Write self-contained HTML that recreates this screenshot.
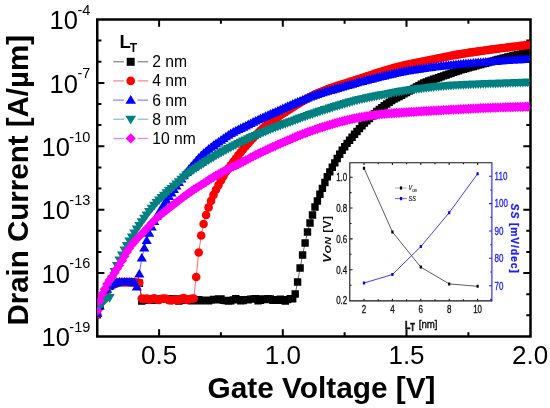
<!DOCTYPE html>
<html><head><meta charset="utf-8"><title>Drain Current vs Gate Voltage</title>
<style>
html,body{margin:0;padding:0;background:#fff;}
body{width:550px;height:408px;overflow:hidden;}
svg{display:block;font-family:"Liberation Sans",Arial,Helvetica,sans-serif;}
</style></head><body>
<svg width="550" height="408" viewBox="0 0 550 408">
<defs><clipPath id="pc"><rect x="97.3" y="19.5" width="432.3" height="317"/></clipPath></defs>
<rect width="550" height="408" fill="#fff"/>
<rect x="97.25" y="19.5" width="433.25" height="317.0" fill="none" stroke="#000" stroke-width="2.5"/>
<path d="M97.2 40.6h4.2M530.5 40.6h-4.2M97.2 61.8h4.2M530.5 61.8h-4.2M97.2 82.9h7.2M530.5 82.9h-7.2M97.2 104h4.2M530.5 104h-4.2M97.2 125.1h4.2M530.5 125.1h-4.2M97.2 146.3h7.2M530.5 146.3h-7.2M97.2 167.4h4.2M530.5 167.4h-4.2M97.2 188.5h4.2M530.5 188.5h-4.2M97.2 209.7h7.2M530.5 209.7h-7.2M97.2 230.8h4.2M530.5 230.8h-4.2M97.2 251.9h4.2M530.5 251.9h-4.2M97.2 273.1h7.2M530.5 273.1h-7.2M97.2 294.2h4.2M530.5 294.2h-4.2M97.2 315.3h4.2M530.5 315.3h-4.2M159.1 336.5v-7.2M159.1 19.5v7.2M220.9 336.5v-4.2M220.9 19.5v4.2M282.8 336.5v-7.2M282.8 19.5v7.2M344.6 336.5v-4.2M344.6 19.5v4.2M406.5 336.5v-7.2M406.5 19.5v7.2M468.4 336.5v-4.2M468.4 19.5v4.2" stroke="#000" stroke-width="2" fill="none"/>
<text x="90.3" y="29.2" text-anchor="end" font-size="25.5">10<tspan font-size="14.5" dx="-0.5" dy="-14.5">-4</tspan></text>
<text x="90.3" y="92.6" text-anchor="end" font-size="25.5">10<tspan font-size="14.5" dx="-0.5" dy="-14.5">-7</tspan></text>
<text x="90.3" y="156" text-anchor="end" font-size="25.5">10<tspan font-size="14.5" dx="-0.5" dy="-14.5">-10</tspan></text>
<text x="90.3" y="219.4" text-anchor="end" font-size="25.5">10<tspan font-size="14.5" dx="-0.5" dy="-14.5">-13</tspan></text>
<text x="90.3" y="282.8" text-anchor="end" font-size="25.5">10<tspan font-size="14.5" dx="-0.5" dy="-14.5">-16</tspan></text>
<text x="90.3" y="346.1" text-anchor="end" font-size="25.5">10<tspan font-size="14.5" dx="-0.5" dy="-14.5">-19</tspan></text>
<text x="159.1" y="363.8" text-anchor="middle" font-size="26">0.5</text>
<text x="282.8" y="363.8" text-anchor="middle" font-size="26">1.0</text>
<text x="406.5" y="363.8" text-anchor="middle" font-size="26">1.5</text>
<text x="530.2" y="363.8" text-anchor="middle" font-size="26">2.0</text>
<g clip-path="url(#pc)">
<path d="M97.2 314.8 L99.7 306.6 L102.2 299.7 L104.7 294.1 L107.1 289.7 L109.6 286.4 L112.1 284.8 L114.6 283.7 L117 283 L119.5 282.6 L122 282.6 L124.5 282.6 L126.9 282.6 L129.4 282.6 L131.9 282.7 L134.4 282.9 L136.8 283.1 L139.3 283.3 L141.8 301 L144.3 299.1 L146.7 300.3 L149.2 300.2 L151.7 300.4 L154.2 299.7 L156.6 300.1 L159.1 298.7 L161.6 298.7 L164 299 L166.5 298.9 L169 298.8 L171.5 298.8 L173.9 299.9 L176.4 299 L178.9 301 L181.4 300.3 L183.8 299.9 L186.3 300.3 L188.8 299.2 L191.3 300.9 L193.7 300.7 L196.2 300.4 L198.7 299.7 L201.2 300.7 L203.6 300.4 L206.1 300.2 L208.6 300.9 L211.1 300.1 L213.5 299.5 L216 299.9 L218.5 299 L221 299 L223.4 300.4 L225.9 300.5 L228.4 301 L230.8 300.7 L233.3 299.9 L235.8 298.7 L238.3 299.8 L240.7 300.9 L243.2 300.5 L245.7 299.8 L248.2 299.7 L250.6 299.1 L253.1 299 L255.6 298.7 L258.1 300.8 L260.5 300.2 L263 298.9 L265.5 299.6 L268 298.6 L270.4 299 L272.9 300.4 L275.4 300.2 L277.9 299.7 L280.3 299.2 L282.8 300.2 L285.3 301 L287.7 299.6 L290.2 298.7 L292.7 298.7 L295.2 294 L297.6 282 L300.1 268 L302.6 255 L305.1 243 L307.5 232 L310 223 L312.5 215 L315 207 L317.4 201 L319.9 194.2 L322.4 188.4 L324.9 182.5 L327.3 176.8 L329.8 171.9 L332.3 167.3 L334.8 162.9 L337.2 158.5 L339.7 154.2 L342.2 150.2 L344.7 146.7 L347.1 143.4 L349.6 140.3 L352.1 137.3 L354.5 134.3 L357 131.5 L359.5 128.6 L362 125.7 L364.4 123.1 L366.9 120.7 L369.4 118.5 L371.9 116.2 L374.3 113.8 L376.8 111.5 L379.3 109.5 L381.8 107.6 L384.2 105.8 L386.7 104 L389.2 102.3 L391.7 100.6 L394.1 99.1 L396.6 97.8 L399.1 96.5 L401.6 95.2 L404 93.9 L406.5 92.5 L409 91.1 L411.4 89.8 L413.9 88.4 L416.4 87 L418.9 85.6 L421.3 84.2 L423.8 83 L426.3 81.9 L428.8 80.9 L431.2 80.1 L433.7 79.3 L436.2 78.5 L438.7 77.7 L441.1 76.8 L443.6 75.9 L446.1 75 L448.6 74.1 L451 73.2 L453.5 72.4 L456 71.5 L458.5 70.7 L460.9 69.9 L463.4 69.2 L465.9 68.5 L468.4 67.8 L470.8 67.1 L473.3 66.5 L475.8 65.8 L478.2 65.1 L480.7 64.5 L483.2 63.8 L485.7 63.2 L488.1 62.5 L490.6 61.8 L493.1 61 L495.6 60.3 L498 59.5 L500.5 58.9 L503 58.2 L505.5 57.6 L507.9 57 L510.4 56.4 L512.9 55.8 L515.4 55.2 L517.8 54.7 L520.3 54.2 L522.8 53.6 L525.3 53.1 L527.7 52.6 L530.2 52.2" fill="none" stroke="#000" stroke-width="0.6"/>
<path d="M93.5 311.1h7.4v7.4h-7.4zM96 302.9h7.4v7.4h-7.4zM98.5 296h7.4v7.4h-7.4zM101 290.4h7.4v7.4h-7.4zM103.4 286h7.4v7.4h-7.4zM105.9 282.7h7.4v7.4h-7.4zM108.4 281.1h7.4v7.4h-7.4zM110.9 280h7.4v7.4h-7.4zM113.3 279.3h7.4v7.4h-7.4zM115.8 278.9h7.4v7.4h-7.4zM118.3 278.9h7.4v7.4h-7.4zM120.8 278.9h7.4v7.4h-7.4zM123.2 278.9h7.4v7.4h-7.4zM125.7 278.9h7.4v7.4h-7.4zM128.2 279h7.4v7.4h-7.4zM130.7 279.2h7.4v7.4h-7.4zM133.1 279.4h7.4v7.4h-7.4zM135.6 279.6h7.4v7.4h-7.4zM138.1 297.3h7.4v7.4h-7.4zM140.6 295.4h7.4v7.4h-7.4zM143 296.6h7.4v7.4h-7.4zM145.5 296.5h7.4v7.4h-7.4zM148 296.7h7.4v7.4h-7.4zM150.5 296h7.4v7.4h-7.4zM152.9 296.4h7.4v7.4h-7.4zM155.4 295h7.4v7.4h-7.4zM157.9 295h7.4v7.4h-7.4zM160.3 295.3h7.4v7.4h-7.4zM162.8 295.2h7.4v7.4h-7.4zM165.3 295.1h7.4v7.4h-7.4zM167.8 295.1h7.4v7.4h-7.4zM170.2 296.2h7.4v7.4h-7.4zM172.7 295.3h7.4v7.4h-7.4zM175.2 297.3h7.4v7.4h-7.4zM177.7 296.6h7.4v7.4h-7.4zM180.1 296.2h7.4v7.4h-7.4zM182.6 296.6h7.4v7.4h-7.4zM185.1 295.5h7.4v7.4h-7.4zM187.6 297.2h7.4v7.4h-7.4zM190 297h7.4v7.4h-7.4zM192.5 296.7h7.4v7.4h-7.4zM195 296h7.4v7.4h-7.4zM197.5 297h7.4v7.4h-7.4zM199.9 296.7h7.4v7.4h-7.4zM202.4 296.5h7.4v7.4h-7.4zM204.9 297.2h7.4v7.4h-7.4zM207.4 296.4h7.4v7.4h-7.4zM209.8 295.8h7.4v7.4h-7.4zM212.3 296.2h7.4v7.4h-7.4zM214.8 295.3h7.4v7.4h-7.4zM217.3 295.3h7.4v7.4h-7.4zM219.7 296.7h7.4v7.4h-7.4zM222.2 296.8h7.4v7.4h-7.4zM224.7 297.3h7.4v7.4h-7.4zM227.1 297h7.4v7.4h-7.4zM229.6 296.2h7.4v7.4h-7.4zM232.1 295h7.4v7.4h-7.4zM234.6 296.1h7.4v7.4h-7.4zM237 297.2h7.4v7.4h-7.4zM239.5 296.8h7.4v7.4h-7.4zM242 296.1h7.4v7.4h-7.4zM244.5 296h7.4v7.4h-7.4zM246.9 295.4h7.4v7.4h-7.4zM249.4 295.3h7.4v7.4h-7.4zM251.9 295h7.4v7.4h-7.4zM254.4 297.1h7.4v7.4h-7.4zM256.8 296.5h7.4v7.4h-7.4zM259.3 295.2h7.4v7.4h-7.4zM261.8 295.9h7.4v7.4h-7.4zM264.3 294.9h7.4v7.4h-7.4zM266.7 295.3h7.4v7.4h-7.4zM269.2 296.7h7.4v7.4h-7.4zM271.7 296.5h7.4v7.4h-7.4zM274.2 296h7.4v7.4h-7.4zM276.6 295.5h7.4v7.4h-7.4zM279.1 296.5h7.4v7.4h-7.4zM281.6 297.3h7.4v7.4h-7.4zM284 295.9h7.4v7.4h-7.4zM286.5 295h7.4v7.4h-7.4zM289 295h7.4v7.4h-7.4zM291.5 290.3h7.4v7.4h-7.4zM293.9 278.3h7.4v7.4h-7.4zM296.4 264.3h7.4v7.4h-7.4zM298.9 251.3h7.4v7.4h-7.4zM301.4 239.3h7.4v7.4h-7.4zM303.8 228.3h7.4v7.4h-7.4zM306.3 219.3h7.4v7.4h-7.4zM308.8 211.3h7.4v7.4h-7.4zM311.3 203.3h7.4v7.4h-7.4zM313.7 197.3h7.4v7.4h-7.4zM316.2 190.5h7.4v7.4h-7.4zM318.7 184.7h7.4v7.4h-7.4zM321.2 178.8h7.4v7.4h-7.4zM323.6 173.1h7.4v7.4h-7.4zM326.1 168.2h7.4v7.4h-7.4zM328.6 163.6h7.4v7.4h-7.4zM331.1 159.2h7.4v7.4h-7.4zM333.5 154.8h7.4v7.4h-7.4zM336 150.5h7.4v7.4h-7.4zM338.5 146.5h7.4v7.4h-7.4zM341 143h7.4v7.4h-7.4zM343.4 139.7h7.4v7.4h-7.4zM345.9 136.6h7.4v7.4h-7.4zM348.4 133.6h7.4v7.4h-7.4zM350.8 130.6h7.4v7.4h-7.4zM353.3 127.8h7.4v7.4h-7.4zM355.8 124.9h7.4v7.4h-7.4zM358.3 122h7.4v7.4h-7.4zM360.7 119.4h7.4v7.4h-7.4zM363.2 117h7.4v7.4h-7.4zM365.7 114.8h7.4v7.4h-7.4zM368.2 112.5h7.4v7.4h-7.4zM370.6 110.1h7.4v7.4h-7.4zM373.1 107.8h7.4v7.4h-7.4zM375.6 105.8h7.4v7.4h-7.4zM378.1 103.9h7.4v7.4h-7.4zM380.5 102.1h7.4v7.4h-7.4zM383 100.3h7.4v7.4h-7.4zM385.5 98.6h7.4v7.4h-7.4zM388 96.9h7.4v7.4h-7.4zM390.4 95.4h7.4v7.4h-7.4zM392.9 94.1h7.4v7.4h-7.4zM395.4 92.8h7.4v7.4h-7.4zM397.9 91.5h7.4v7.4h-7.4zM400.3 90.2h7.4v7.4h-7.4zM402.8 88.8h7.4v7.4h-7.4zM405.3 87.4h7.4v7.4h-7.4zM407.7 86.1h7.4v7.4h-7.4zM410.2 84.7h7.4v7.4h-7.4zM412.7 83.3h7.4v7.4h-7.4zM415.2 81.9h7.4v7.4h-7.4zM417.6 80.5h7.4v7.4h-7.4zM420.1 79.3h7.4v7.4h-7.4zM422.6 78.2h7.4v7.4h-7.4zM425.1 77.2h7.4v7.4h-7.4zM427.5 76.4h7.4v7.4h-7.4zM430 75.6h7.4v7.4h-7.4zM432.5 74.8h7.4v7.4h-7.4zM435 74h7.4v7.4h-7.4zM437.4 73.1h7.4v7.4h-7.4zM439.9 72.2h7.4v7.4h-7.4zM442.4 71.3h7.4v7.4h-7.4zM444.9 70.4h7.4v7.4h-7.4zM447.3 69.5h7.4v7.4h-7.4zM449.8 68.7h7.4v7.4h-7.4zM452.3 67.8h7.4v7.4h-7.4zM454.8 67h7.4v7.4h-7.4zM457.2 66.2h7.4v7.4h-7.4zM459.7 65.5h7.4v7.4h-7.4zM462.2 64.8h7.4v7.4h-7.4zM464.7 64.1h7.4v7.4h-7.4zM467.1 63.4h7.4v7.4h-7.4zM469.6 62.8h7.4v7.4h-7.4zM472.1 62.1h7.4v7.4h-7.4zM474.5 61.4h7.4v7.4h-7.4zM477 60.8h7.4v7.4h-7.4zM479.5 60.1h7.4v7.4h-7.4zM482 59.5h7.4v7.4h-7.4zM484.4 58.8h7.4v7.4h-7.4zM486.9 58.1h7.4v7.4h-7.4zM489.4 57.3h7.4v7.4h-7.4zM491.9 56.6h7.4v7.4h-7.4zM494.3 55.8h7.4v7.4h-7.4zM496.8 55.2h7.4v7.4h-7.4zM499.3 54.5h7.4v7.4h-7.4zM501.8 53.9h7.4v7.4h-7.4zM504.2 53.3h7.4v7.4h-7.4zM506.7 52.7h7.4v7.4h-7.4zM509.2 52.1h7.4v7.4h-7.4zM511.7 51.5h7.4v7.4h-7.4zM514.1 51h7.4v7.4h-7.4zM516.6 50.5h7.4v7.4h-7.4zM519.1 49.9h7.4v7.4h-7.4zM521.6 49.4h7.4v7.4h-7.4zM524 48.9h7.4v7.4h-7.4zM526.5 48.5h7.4v7.4h-7.4z" fill="#000"/>
<path d="M97.2 314.3 L99.7 306.1 L102.2 299.2 L104.7 293.6 L107.1 289.2 L109.6 285.9 L112.1 284.3 L114.6 283.2 L117 282.5 L119.5 282.1 L122 282.1 L124.5 282.1 L126.9 282.1 L129.4 282.1 L131.9 282.2 L134.4 282.4 L136.8 282.6 L139.3 282.8 L141.8 298.6 L144.3 299 L146.7 298.6 L149.2 299.7 L151.7 299 L154.2 298.3 L156.6 299.3 L159.1 299.9 L161.6 298.7 L164 298.5 L166.5 298.9 L169 300.3 L171.5 300.4 L173.9 299.6 L176.4 300.2 L178.9 300.1 L181.4 298.9 L183.8 298.1 L186.3 299.6 L188.8 299.4 L191.3 298.8 L193.7 298.5 L196.2 277 L198.7 252.5 L201.2 235.5 L203.6 224 L206.1 215 L208.6 207.4 L211.1 200.9 L213.5 194.9 L216 189.7 L218.5 185.1 L221 180.5 L223.4 176.2 L225.9 172 L228.4 168.6 L230.8 165.2 L233.3 161.8 L235.8 158.5 L238.3 155.3 L240.7 152.2 L243.2 149.1 L245.7 146.2 L248.2 143.4 L250.6 140.7 L253.1 138.1 L255.6 135.5 L258.1 132.9 L260.5 130.6 L263 128.4 L265.5 126.3 L268 124.3 L270.4 122.4 L272.9 120.5 L275.4 118.8 L277.9 117.2 L280.3 115.5 L282.8 113.8 L285.3 112.1 L287.7 110.5 L290.2 108.9 L292.7 107.3 L295.2 105.7 L297.6 104.2 L300.1 102.6 L302.6 101.2 L305.1 99.7 L307.5 98.4 L310 97 L312.5 95.7 L315 94.4 L317.4 93.3 L319.9 92.2 L322.4 91.2 L324.9 90.2 L327.3 89.3 L329.8 88.4 L332.3 87.5 L334.8 86.7 L337.2 85.9 L339.7 85.1 L342.2 84.3 L344.7 83.5 L347.1 82.7 L349.6 81.9 L352.1 81.2 L354.5 80.4 L357 79.6 L359.5 78.8 L362 78 L364.4 77.2 L366.9 76.4 L369.4 75.5 L371.9 74.7 L374.3 73.9 L376.8 73.1 L379.3 72.3 L381.8 71.5 L384.2 70.7 L386.7 70 L389.2 69.3 L391.7 68.6 L394.1 67.9 L396.6 67.2 L399.1 66.6 L401.6 66 L404 65.4 L406.5 64.9 L409 64.3 L411.4 63.8 L413.9 63.3 L416.4 62.8 L418.9 62.3 L421.3 61.8 L423.8 61.3 L426.3 60.7 L428.8 60.2 L431.2 59.7 L433.7 59.2 L436.2 58.7 L438.7 58.2 L441.1 57.7 L443.6 57.2 L446.1 56.7 L448.6 56.2 L451 55.8 L453.5 55.3 L456 54.9 L458.5 54.4 L460.9 54 L463.4 53.6 L465.9 53.2 L468.4 52.8 L470.8 52.4 L473.3 52.1 L475.8 51.7 L478.2 51.4 L480.7 51 L483.2 50.7 L485.7 50.3 L488.1 50 L490.6 49.6 L493.1 49.3 L495.6 49 L498 48.7 L500.5 48.3 L503 48 L505.5 47.7 L507.9 47.4 L510.4 47.1 L512.9 46.8 L515.4 46.5 L517.8 46.2 L520.3 45.9 L522.8 45.6 L525.3 45.3 L527.7 45 L530.2 44.7" fill="none" stroke="#f00" stroke-width="0.6"/>
<g fill="#f00"><circle cx="97.2" cy="314.3" r="4.3"/><circle cx="99.7" cy="306.1" r="4.3"/><circle cx="102.2" cy="299.2" r="4.3"/><circle cx="104.7" cy="293.6" r="4.3"/><circle cx="107.1" cy="289.2" r="4.3"/><circle cx="109.6" cy="285.9" r="4.3"/><circle cx="112.1" cy="284.3" r="4.3"/><circle cx="114.6" cy="283.2" r="4.3"/><circle cx="117" cy="282.5" r="4.3"/><circle cx="119.5" cy="282.1" r="4.3"/><circle cx="122" cy="282.1" r="4.3"/><circle cx="124.5" cy="282.1" r="4.3"/><circle cx="126.9" cy="282.1" r="4.3"/><circle cx="129.4" cy="282.1" r="4.3"/><circle cx="131.9" cy="282.2" r="4.3"/><circle cx="134.4" cy="282.4" r="4.3"/><circle cx="136.8" cy="282.6" r="4.3"/><circle cx="139.3" cy="282.8" r="4.3"/><circle cx="141.8" cy="298.6" r="4.3"/><circle cx="144.3" cy="299" r="4.3"/><circle cx="146.7" cy="298.6" r="4.3"/><circle cx="149.2" cy="299.7" r="4.3"/><circle cx="151.7" cy="299" r="4.3"/><circle cx="154.2" cy="298.3" r="4.3"/><circle cx="156.6" cy="299.3" r="4.3"/><circle cx="159.1" cy="299.9" r="4.3"/><circle cx="161.6" cy="298.7" r="4.3"/><circle cx="164" cy="298.5" r="4.3"/><circle cx="166.5" cy="298.9" r="4.3"/><circle cx="169" cy="300.3" r="4.3"/><circle cx="171.5" cy="300.4" r="4.3"/><circle cx="173.9" cy="299.6" r="4.3"/><circle cx="176.4" cy="300.2" r="4.3"/><circle cx="178.9" cy="300.1" r="4.3"/><circle cx="181.4" cy="298.9" r="4.3"/><circle cx="183.8" cy="298.1" r="4.3"/><circle cx="186.3" cy="299.6" r="4.3"/><circle cx="188.8" cy="299.4" r="4.3"/><circle cx="191.3" cy="298.8" r="4.3"/><circle cx="193.7" cy="298.5" r="4.3"/><circle cx="196.2" cy="277" r="4.3"/><circle cx="198.7" cy="252.5" r="4.3"/><circle cx="201.2" cy="235.5" r="4.3"/><circle cx="203.6" cy="224" r="4.3"/><circle cx="206.1" cy="215" r="4.3"/><circle cx="208.6" cy="207.4" r="4.3"/><circle cx="211.1" cy="200.9" r="4.3"/><circle cx="213.5" cy="194.9" r="4.3"/><circle cx="216" cy="189.7" r="4.3"/><circle cx="218.5" cy="185.1" r="4.3"/><circle cx="221" cy="180.5" r="4.3"/><circle cx="223.4" cy="176.2" r="4.3"/><circle cx="225.9" cy="172" r="4.3"/><circle cx="228.4" cy="168.6" r="4.3"/><circle cx="230.8" cy="165.2" r="4.3"/><circle cx="233.3" cy="161.8" r="4.3"/><circle cx="235.8" cy="158.5" r="4.3"/><circle cx="238.3" cy="155.3" r="4.3"/><circle cx="240.7" cy="152.2" r="4.3"/><circle cx="243.2" cy="149.1" r="4.3"/><circle cx="245.7" cy="146.2" r="4.3"/><circle cx="248.2" cy="143.4" r="4.3"/><circle cx="250.6" cy="140.7" r="4.3"/><circle cx="253.1" cy="138.1" r="4.3"/><circle cx="255.6" cy="135.5" r="4.3"/><circle cx="258.1" cy="132.9" r="4.3"/><circle cx="260.5" cy="130.6" r="4.3"/><circle cx="263" cy="128.4" r="4.3"/><circle cx="265.5" cy="126.3" r="4.3"/><circle cx="268" cy="124.3" r="4.3"/><circle cx="270.4" cy="122.4" r="4.3"/><circle cx="272.9" cy="120.5" r="4.3"/><circle cx="275.4" cy="118.8" r="4.3"/><circle cx="277.9" cy="117.2" r="4.3"/><circle cx="280.3" cy="115.5" r="4.3"/><circle cx="282.8" cy="113.8" r="4.3"/><circle cx="285.3" cy="112.1" r="4.3"/><circle cx="287.7" cy="110.5" r="4.3"/><circle cx="290.2" cy="108.9" r="4.3"/><circle cx="292.7" cy="107.3" r="4.3"/><circle cx="295.2" cy="105.7" r="4.3"/><circle cx="297.6" cy="104.2" r="4.3"/><circle cx="300.1" cy="102.6" r="4.3"/><circle cx="302.6" cy="101.2" r="4.3"/><circle cx="305.1" cy="99.7" r="4.3"/><circle cx="307.5" cy="98.4" r="4.3"/><circle cx="310" cy="97" r="4.3"/><circle cx="312.5" cy="95.7" r="4.3"/><circle cx="315" cy="94.4" r="4.3"/><circle cx="317.4" cy="93.3" r="4.3"/><circle cx="319.9" cy="92.2" r="4.3"/><circle cx="322.4" cy="91.2" r="4.3"/><circle cx="324.9" cy="90.2" r="4.3"/><circle cx="327.3" cy="89.3" r="4.3"/><circle cx="329.8" cy="88.4" r="4.3"/><circle cx="332.3" cy="87.5" r="4.3"/><circle cx="334.8" cy="86.7" r="4.3"/><circle cx="337.2" cy="85.9" r="4.3"/><circle cx="339.7" cy="85.1" r="4.3"/><circle cx="342.2" cy="84.3" r="4.3"/><circle cx="344.7" cy="83.5" r="4.3"/><circle cx="347.1" cy="82.7" r="4.3"/><circle cx="349.6" cy="81.9" r="4.3"/><circle cx="352.1" cy="81.2" r="4.3"/><circle cx="354.5" cy="80.4" r="4.3"/><circle cx="357" cy="79.6" r="4.3"/><circle cx="359.5" cy="78.8" r="4.3"/><circle cx="362" cy="78" r="4.3"/><circle cx="364.4" cy="77.2" r="4.3"/><circle cx="366.9" cy="76.4" r="4.3"/><circle cx="369.4" cy="75.5" r="4.3"/><circle cx="371.9" cy="74.7" r="4.3"/><circle cx="374.3" cy="73.9" r="4.3"/><circle cx="376.8" cy="73.1" r="4.3"/><circle cx="379.3" cy="72.3" r="4.3"/><circle cx="381.8" cy="71.5" r="4.3"/><circle cx="384.2" cy="70.7" r="4.3"/><circle cx="386.7" cy="70" r="4.3"/><circle cx="389.2" cy="69.3" r="4.3"/><circle cx="391.7" cy="68.6" r="4.3"/><circle cx="394.1" cy="67.9" r="4.3"/><circle cx="396.6" cy="67.2" r="4.3"/><circle cx="399.1" cy="66.6" r="4.3"/><circle cx="401.6" cy="66" r="4.3"/><circle cx="404" cy="65.4" r="4.3"/><circle cx="406.5" cy="64.9" r="4.3"/><circle cx="409" cy="64.3" r="4.3"/><circle cx="411.4" cy="63.8" r="4.3"/><circle cx="413.9" cy="63.3" r="4.3"/><circle cx="416.4" cy="62.8" r="4.3"/><circle cx="418.9" cy="62.3" r="4.3"/><circle cx="421.3" cy="61.8" r="4.3"/><circle cx="423.8" cy="61.3" r="4.3"/><circle cx="426.3" cy="60.7" r="4.3"/><circle cx="428.8" cy="60.2" r="4.3"/><circle cx="431.2" cy="59.7" r="4.3"/><circle cx="433.7" cy="59.2" r="4.3"/><circle cx="436.2" cy="58.7" r="4.3"/><circle cx="438.7" cy="58.2" r="4.3"/><circle cx="441.1" cy="57.7" r="4.3"/><circle cx="443.6" cy="57.2" r="4.3"/><circle cx="446.1" cy="56.7" r="4.3"/><circle cx="448.6" cy="56.2" r="4.3"/><circle cx="451" cy="55.8" r="4.3"/><circle cx="453.5" cy="55.3" r="4.3"/><circle cx="456" cy="54.9" r="4.3"/><circle cx="458.5" cy="54.4" r="4.3"/><circle cx="460.9" cy="54" r="4.3"/><circle cx="463.4" cy="53.6" r="4.3"/><circle cx="465.9" cy="53.2" r="4.3"/><circle cx="468.4" cy="52.8" r="4.3"/><circle cx="470.8" cy="52.4" r="4.3"/><circle cx="473.3" cy="52.1" r="4.3"/><circle cx="475.8" cy="51.7" r="4.3"/><circle cx="478.2" cy="51.4" r="4.3"/><circle cx="480.7" cy="51" r="4.3"/><circle cx="483.2" cy="50.7" r="4.3"/><circle cx="485.7" cy="50.3" r="4.3"/><circle cx="488.1" cy="50" r="4.3"/><circle cx="490.6" cy="49.6" r="4.3"/><circle cx="493.1" cy="49.3" r="4.3"/><circle cx="495.6" cy="49" r="4.3"/><circle cx="498" cy="48.7" r="4.3"/><circle cx="500.5" cy="48.3" r="4.3"/><circle cx="503" cy="48" r="4.3"/><circle cx="505.5" cy="47.7" r="4.3"/><circle cx="507.9" cy="47.4" r="4.3"/><circle cx="510.4" cy="47.1" r="4.3"/><circle cx="512.9" cy="46.8" r="4.3"/><circle cx="515.4" cy="46.5" r="4.3"/><circle cx="517.8" cy="46.2" r="4.3"/><circle cx="520.3" cy="45.9" r="4.3"/><circle cx="522.8" cy="45.6" r="4.3"/><circle cx="525.3" cy="45.3" r="4.3"/><circle cx="527.7" cy="45" r="4.3"/><circle cx="530.2" cy="44.7" r="4.3"/></g>
<path d="M97.2 313.5 L99.7 305.8 L102.2 298.9 L104.7 293.4 L107.1 289.1 L109.6 285.8 L112.1 284.2 L114.6 283.1 L117 282.4 L119.5 282 L122 282 L124.5 282 L126.9 282 L129.4 282 L131.9 282.1 L134.4 282.5 L136.8 287 L139.3 273.9 L141.8 258 L144.3 248 L146.7 240.4 L149.2 233.2 L151.7 227 L154.2 221.5 L156.6 216.5 L159.1 212 L161.6 207.9 L164 204 L166.5 200.2 L169 196.5 L171.5 192.9 L173.9 189.3 L176.4 185.8 L178.9 182.4 L181.4 179 L183.8 175.6 L186.3 172.4 L188.8 169.3 L191.3 166.5 L193.7 163.7 L196.2 160.8 L198.7 158 L201.2 155.6 L203.6 153.3 L206.1 151.2 L208.6 149.1 L211.1 147.2 L213.5 145.3 L216 143.6 L218.5 141.9 L221 140.1 L223.4 138.4 L225.9 136.7 L228.4 135 L230.8 133.5 L233.3 132.1 L235.8 130.7 L238.3 129.5 L240.7 128.3 L243.2 127.1 L245.7 125.9 L248.2 124.6 L250.6 123.4 L253.1 122.1 L255.6 120.9 L258.1 119.7 L260.5 118.6 L263 117.4 L265.5 116.3 L268 115.2 L270.4 114.1 L272.9 113 L275.4 111.9 L277.9 110.8 L280.3 109.7 L282.8 108.5 L285.3 107.4 L287.7 106.3 L290.2 105.2 L292.7 104.1 L295.2 103 L297.6 101.9 L300.1 100.9 L302.6 99.9 L305.1 98.9 L307.5 97.9 L310 97 L312.5 96.1 L315 95.2 L317.4 94.3 L319.9 93.5 L322.4 92.7 L324.9 91.9 L327.3 91.2 L329.8 90.5 L332.3 89.8 L334.8 89.1 L337.2 88.4 L339.7 87.7 L342.2 87 L344.7 86.2 L347.1 85.5 L349.6 84.8 L352.1 84 L354.5 83.3 L357 82.7 L359.5 82 L362 81.3 L364.4 80.7 L366.9 80.1 L369.4 79.5 L371.9 78.8 L374.3 78.2 L376.8 77.6 L379.3 77 L381.8 76.4 L384.2 75.8 L386.7 75.2 L389.2 74.6 L391.7 74.1 L394.1 73.5 L396.6 72.9 L399.1 72.4 L401.6 71.9 L404 71.4 L406.5 71 L409 70.6 L411.4 70.2 L413.9 69.8 L416.4 69.5 L418.9 69.1 L421.3 68.7 L423.8 68.4 L426.3 68 L428.8 67.7 L431.2 67.3 L433.7 67 L436.2 66.7 L438.7 66.4 L441.1 66.1 L443.6 65.8 L446.1 65.5 L448.6 65.2 L451 65 L453.5 64.7 L456 64.5 L458.5 64.2 L460.9 64 L463.4 63.8 L465.9 63.6 L468.4 63.4 L470.8 63.2 L473.3 63 L475.8 62.8 L478.2 62.6 L480.7 62.4 L483.2 62.2 L485.7 62.1 L488.1 61.9 L490.6 61.7 L493.1 61.5 L495.6 61.3 L498 61.1 L500.5 60.9 L503 60.7 L505.5 60.5 L507.9 60.4 L510.4 60.2 L512.9 60 L515.4 59.9 L517.8 59.8 L520.3 59.6 L522.8 59.5 L525.3 59.4 L527.7 59.2 L530.2 59.1" fill="none" stroke="#00f" stroke-width="0.6"/>
<path d="M97.2 308.5l5.1 8.6h-10.2zM99.7 300.8l5.1 8.6h-10.2zM102.2 294l5.1 8.6h-10.2zM104.7 288.4l5.1 8.6h-10.2zM107.1 284.1l5.1 8.6h-10.2zM109.6 280.8l5.1 8.6h-10.2zM112.1 279.2l5.1 8.6h-10.2zM114.6 278.1l5.1 8.6h-10.2zM117 277.4l5.1 8.6h-10.2zM119.5 277l5.1 8.6h-10.2zM122 277l5.1 8.6h-10.2zM124.5 277l5.1 8.6h-10.2zM126.9 277l5.1 8.6h-10.2zM129.4 277l5.1 8.6h-10.2zM131.9 277.1l5.1 8.6h-10.2zM134.4 277.5l5.1 8.6h-10.2zM136.8 282l5.1 8.6h-10.2zM139.3 268.9l5.1 8.6h-10.2zM141.8 253l5.1 8.6h-10.2zM144.3 243l5.1 8.6h-10.2zM146.7 235.4l5.1 8.6h-10.2zM149.2 228.2l5.1 8.6h-10.2zM151.7 222l5.1 8.6h-10.2zM154.2 216.5l5.1 8.6h-10.2zM156.6 211.5l5.1 8.6h-10.2zM159.1 207l5.1 8.6h-10.2zM161.6 202.9l5.1 8.6h-10.2zM164 199l5.1 8.6h-10.2zM166.5 195.2l5.1 8.6h-10.2zM169 191.5l5.1 8.6h-10.2zM171.5 187.9l5.1 8.6h-10.2zM173.9 184.3l5.1 8.6h-10.2zM176.4 180.8l5.1 8.6h-10.2zM178.9 177.4l5.1 8.6h-10.2zM181.4 174l5.1 8.6h-10.2zM183.8 170.6l5.1 8.6h-10.2zM186.3 167.4l5.1 8.6h-10.2zM188.8 164.3l5.1 8.6h-10.2zM191.3 161.5l5.1 8.6h-10.2zM193.7 158.7l5.1 8.6h-10.2zM196.2 155.8l5.1 8.6h-10.2zM198.7 153.1l5.1 8.6h-10.2zM201.2 150.6l5.1 8.6h-10.2zM203.6 148.3l5.1 8.6h-10.2zM206.1 146.2l5.1 8.6h-10.2zM208.6 144.1l5.1 8.6h-10.2zM211.1 142.2l5.1 8.6h-10.2zM213.5 140.3l5.1 8.6h-10.2zM216 138.6l5.1 8.6h-10.2zM218.5 136.9l5.1 8.6h-10.2zM221 135.2l5.1 8.6h-10.2zM223.4 133.4l5.1 8.6h-10.2zM225.9 131.7l5.1 8.6h-10.2zM228.4 130.1l5.1 8.6h-10.2zM230.8 128.5l5.1 8.6h-10.2zM233.3 127.1l5.1 8.6h-10.2zM235.8 125.7l5.1 8.6h-10.2zM238.3 124.5l5.1 8.6h-10.2zM240.7 123.3l5.1 8.6h-10.2zM243.2 122.1l5.1 8.6h-10.2zM245.7 120.9l5.1 8.6h-10.2zM248.2 119.6l5.1 8.6h-10.2zM250.6 118.4l5.1 8.6h-10.2zM253.1 117.1l5.1 8.6h-10.2zM255.6 115.9l5.1 8.6h-10.2zM258.1 114.7l5.1 8.6h-10.2zM260.5 113.6l5.1 8.6h-10.2zM263 112.4l5.1 8.6h-10.2zM265.5 111.3l5.1 8.6h-10.2zM268 110.2l5.1 8.6h-10.2zM270.4 109.1l5.1 8.6h-10.2zM272.9 108l5.1 8.6h-10.2zM275.4 106.9l5.1 8.6h-10.2zM277.9 105.8l5.1 8.6h-10.2zM280.3 104.7l5.1 8.6h-10.2zM282.8 103.6l5.1 8.6h-10.2zM285.3 102.4l5.1 8.6h-10.2zM287.7 101.3l5.1 8.6h-10.2zM290.2 100.2l5.1 8.6h-10.2zM292.7 99.1l5.1 8.6h-10.2zM295.2 98l5.1 8.6h-10.2zM297.6 97l5.1 8.6h-10.2zM300.1 95.9l5.1 8.6h-10.2zM302.6 94.9l5.1 8.6h-10.2zM305.1 93.9l5.1 8.6h-10.2zM307.5 92.9l5.1 8.6h-10.2zM310 92l5.1 8.6h-10.2zM312.5 91.1l5.1 8.6h-10.2zM315 90.2l5.1 8.6h-10.2zM317.4 89.3l5.1 8.6h-10.2zM319.9 88.5l5.1 8.6h-10.2zM322.4 87.7l5.1 8.6h-10.2zM324.9 86.9l5.1 8.6h-10.2zM327.3 86.2l5.1 8.6h-10.2zM329.8 85.5l5.1 8.6h-10.2zM332.3 84.8l5.1 8.6h-10.2zM334.8 84.1l5.1 8.6h-10.2zM337.2 83.4l5.1 8.6h-10.2zM339.7 82.7l5.1 8.6h-10.2zM342.2 82l5.1 8.6h-10.2zM344.7 81.2l5.1 8.6h-10.2zM347.1 80.5l5.1 8.6h-10.2zM349.6 79.8l5.1 8.6h-10.2zM352.1 79.1l5.1 8.6h-10.2zM354.5 78.4l5.1 8.6h-10.2zM357 77.7l5.1 8.6h-10.2zM359.5 77l5.1 8.6h-10.2zM362 76.4l5.1 8.6h-10.2zM364.4 75.7l5.1 8.6h-10.2zM366.9 75.1l5.1 8.6h-10.2zM369.4 74.5l5.1 8.6h-10.2zM371.9 73.8l5.1 8.6h-10.2zM374.3 73.2l5.1 8.6h-10.2zM376.8 72.6l5.1 8.6h-10.2zM379.3 72l5.1 8.6h-10.2zM381.8 71.4l5.1 8.6h-10.2zM384.2 70.8l5.1 8.6h-10.2zM386.7 70.2l5.1 8.6h-10.2zM389.2 69.7l5.1 8.6h-10.2zM391.7 69.1l5.1 8.6h-10.2zM394.1 68.5l5.1 8.6h-10.2zM396.6 68l5.1 8.6h-10.2zM399.1 67.4l5.1 8.6h-10.2zM401.6 66.9l5.1 8.6h-10.2zM404 66.4l5.1 8.6h-10.2zM406.5 66l5.1 8.6h-10.2zM409 65.6l5.1 8.6h-10.2zM411.4 65.2l5.1 8.6h-10.2zM413.9 64.8l5.1 8.6h-10.2zM416.4 64.5l5.1 8.6h-10.2zM418.9 64.1l5.1 8.6h-10.2zM421.3 63.7l5.1 8.6h-10.2zM423.8 63.4l5.1 8.6h-10.2zM426.3 63l5.1 8.6h-10.2zM428.8 62.7l5.1 8.6h-10.2zM431.2 62.3l5.1 8.6h-10.2zM433.7 62l5.1 8.6h-10.2zM436.2 61.7l5.1 8.6h-10.2zM438.7 61.4l5.1 8.6h-10.2zM441.1 61.1l5.1 8.6h-10.2zM443.6 60.8l5.1 8.6h-10.2zM446.1 60.5l5.1 8.6h-10.2zM448.6 60.2l5.1 8.6h-10.2zM451 60l5.1 8.6h-10.2zM453.5 59.7l5.1 8.6h-10.2zM456 59.5l5.1 8.6h-10.2zM458.5 59.2l5.1 8.6h-10.2zM460.9 59l5.1 8.6h-10.2zM463.4 58.8l5.1 8.6h-10.2zM465.9 58.6l5.1 8.6h-10.2zM468.4 58.4l5.1 8.6h-10.2zM470.8 58.2l5.1 8.6h-10.2zM473.3 58l5.1 8.6h-10.2zM475.8 57.8l5.1 8.6h-10.2zM478.2 57.6l5.1 8.6h-10.2zM480.7 57.4l5.1 8.6h-10.2zM483.2 57.3l5.1 8.6h-10.2zM485.7 57.1l5.1 8.6h-10.2zM488.1 56.9l5.1 8.6h-10.2zM490.6 56.7l5.1 8.6h-10.2zM493.1 56.5l5.1 8.6h-10.2zM495.6 56.3l5.1 8.6h-10.2zM498 56.1l5.1 8.6h-10.2zM500.5 55.9l5.1 8.6h-10.2zM503 55.7l5.1 8.6h-10.2zM505.5 55.5l5.1 8.6h-10.2zM507.9 55.4l5.1 8.6h-10.2zM510.4 55.2l5.1 8.6h-10.2zM512.9 55.1l5.1 8.6h-10.2zM515.4 54.9l5.1 8.6h-10.2zM517.8 54.8l5.1 8.6h-10.2zM520.3 54.6l5.1 8.6h-10.2zM522.8 54.5l5.1 8.6h-10.2zM525.3 54.4l5.1 8.6h-10.2zM527.7 54.3l5.1 8.6h-10.2zM530.2 54.1l5.1 8.6h-10.2z" fill="#00f"/>
<path d="M97.2 309 L99.7 306 L102.2 303 L104.7 300 L107.1 297.7 L109.6 297.7 L112.1 279 L114.6 271.5 L117 265.5 L119.5 260 L122 255 L124.5 250 L126.9 245.5 L129.4 241 L131.9 237 L134.4 233.1 L136.8 229.2 L139.3 225.5 L141.8 221.9 L144.3 218.5 L146.7 215 L149.2 211.6 L151.7 208.5 L154.2 205.4 L156.6 202.7 L159.1 200.1 L161.6 197.6 L164 195.3 L166.5 193 L169 190.7 L171.5 188.5 L173.9 186.3 L176.4 184.1 L178.9 181.8 L181.4 179.4 L183.8 177.2 L186.3 175 L188.8 173.1 L191.3 171.4 L193.7 169.7 L196.2 168.1 L198.7 166.5 L201.2 164.8 L203.6 163.2 L206.1 161.6 L208.6 160.1 L211.1 158.5 L213.5 157 L216 155.5 L218.5 154.1 L221 152.7 L223.4 151.3 L225.9 149.9 L228.4 148.6 L230.8 147.3 L233.3 146 L235.8 144.8 L238.3 143.5 L240.7 142.3 L243.2 141.1 L245.7 140 L248.2 138.8 L250.6 137.7 L253.1 136.7 L255.6 135.6 L258.1 134.5 L260.5 133.5 L263 132.4 L265.5 131.4 L268 130.3 L270.4 129.3 L272.9 128.3 L275.4 127.4 L277.9 126.4 L280.3 125.5 L282.8 124.6 L285.3 123.7 L287.7 122.8 L290.2 121.9 L292.7 121 L295.2 120.1 L297.6 119.2 L300.1 118.3 L302.6 117.4 L305.1 116.5 L307.5 115.6 L310 114.8 L312.5 113.9 L315 113.1 L317.4 112.2 L319.9 111.4 L322.4 110.6 L324.9 109.8 L327.3 109 L329.8 108.2 L332.3 107.4 L334.8 106.7 L337.2 105.9 L339.7 105.2 L342.2 104.4 L344.7 103.7 L347.1 102.9 L349.6 102.2 L352.1 101.5 L354.5 100.8 L357 100.2 L359.5 99.6 L362 99 L364.4 98.5 L366.9 97.9 L369.4 97.4 L371.9 96.9 L374.3 96.4 L376.8 95.9 L379.3 95.4 L381.8 95 L384.2 94.5 L386.7 94 L389.2 93.5 L391.7 93.1 L394.1 92.6 L396.6 92.1 L399.1 91.7 L401.6 91.2 L404 90.8 L406.5 90.4 L409 90 L411.4 89.7 L413.9 89.3 L416.4 89 L418.9 88.7 L421.3 88.4 L423.8 88.1 L426.3 87.8 L428.8 87.5 L431.2 87.2 L433.7 86.9 L436.2 86.7 L438.7 86.4 L441.1 86.2 L443.6 86 L446.1 85.8 L448.6 85.6 L451 85.4 L453.5 85.3 L456 85.1 L458.5 84.9 L460.9 84.8 L463.4 84.7 L465.9 84.6 L468.4 84.4 L470.8 84.3 L473.3 84.2 L475.8 84.1 L478.2 84 L480.7 83.9 L483.2 83.8 L485.7 83.7 L488.1 83.6 L490.6 83.5 L493.1 83.5 L495.6 83.4 L498 83.3 L500.5 83.2 L503 83.1 L505.5 83 L507.9 82.9 L510.4 82.9 L512.9 82.8 L515.4 82.7 L517.8 82.6 L520.3 82.5 L522.8 82.4 L525.3 82.3 L527.7 82.2 L530.2 82.1" fill="none" stroke="#008080" stroke-width="0.6"/>
<path d="M97.2 314l5.1 -8.6h-10.2zM99.7 311l5.1 -8.6h-10.2zM102.2 308l5.1 -8.6h-10.2zM104.7 305l5.1 -8.6h-10.2zM107.1 302.7l5.1 -8.6h-10.2zM109.6 302.7l5.1 -8.6h-10.2zM112.1 284l5.1 -8.6h-10.2zM114.6 276.5l5.1 -8.6h-10.2zM117 270.5l5.1 -8.6h-10.2zM119.5 265l5.1 -8.6h-10.2zM122 260l5.1 -8.6h-10.2zM124.5 255l5.1 -8.6h-10.2zM126.9 250.5l5.1 -8.6h-10.2zM129.4 246l5.1 -8.6h-10.2zM131.9 242l5.1 -8.6h-10.2zM134.4 238l5.1 -8.6h-10.2zM136.8 234.2l5.1 -8.6h-10.2zM139.3 230.5l5.1 -8.6h-10.2zM141.8 226.9l5.1 -8.6h-10.2zM144.3 223.4l5.1 -8.6h-10.2zM146.7 220l5.1 -8.6h-10.2zM149.2 216.6l5.1 -8.6h-10.2zM151.7 213.4l5.1 -8.6h-10.2zM154.2 210.4l5.1 -8.6h-10.2zM156.6 207.6l5.1 -8.6h-10.2zM159.1 205.1l5.1 -8.6h-10.2zM161.6 202.6l5.1 -8.6h-10.2zM164 200.3l5.1 -8.6h-10.2zM166.5 197.9l5.1 -8.6h-10.2zM169 195.7l5.1 -8.6h-10.2zM171.5 193.5l5.1 -8.6h-10.2zM173.9 191.3l5.1 -8.6h-10.2zM176.4 189.1l5.1 -8.6h-10.2zM178.9 186.8l5.1 -8.6h-10.2zM181.4 184.4l5.1 -8.6h-10.2zM183.8 182.1l5.1 -8.6h-10.2zM186.3 180l5.1 -8.6h-10.2zM188.8 178.1l5.1 -8.6h-10.2zM191.3 176.4l5.1 -8.6h-10.2zM193.7 174.7l5.1 -8.6h-10.2zM196.2 173l5.1 -8.6h-10.2zM198.7 171.4l5.1 -8.6h-10.2zM201.2 169.8l5.1 -8.6h-10.2zM203.6 168.2l5.1 -8.6h-10.2zM206.1 166.6l5.1 -8.6h-10.2zM208.6 165.1l5.1 -8.6h-10.2zM211.1 163.5l5.1 -8.6h-10.2zM213.5 162l5.1 -8.6h-10.2zM216 160.5l5.1 -8.6h-10.2zM218.5 159.1l5.1 -8.6h-10.2zM221 157.7l5.1 -8.6h-10.2zM223.4 156.3l5.1 -8.6h-10.2zM225.9 154.9l5.1 -8.6h-10.2zM228.4 153.6l5.1 -8.6h-10.2zM230.8 152.3l5.1 -8.6h-10.2zM233.3 151l5.1 -8.6h-10.2zM235.8 149.8l5.1 -8.6h-10.2zM238.3 148.5l5.1 -8.6h-10.2zM240.7 147.3l5.1 -8.6h-10.2zM243.2 146.1l5.1 -8.6h-10.2zM245.7 145l5.1 -8.6h-10.2zM248.2 143.8l5.1 -8.6h-10.2zM250.6 142.7l5.1 -8.6h-10.2zM253.1 141.6l5.1 -8.6h-10.2zM255.6 140.6l5.1 -8.6h-10.2zM258.1 139.5l5.1 -8.6h-10.2zM260.5 138.5l5.1 -8.6h-10.2zM263 137.4l5.1 -8.6h-10.2zM265.5 136.4l5.1 -8.6h-10.2zM268 135.3l5.1 -8.6h-10.2zM270.4 134.3l5.1 -8.6h-10.2zM272.9 133.3l5.1 -8.6h-10.2zM275.4 132.3l5.1 -8.6h-10.2zM277.9 131.4l5.1 -8.6h-10.2zM280.3 130.5l5.1 -8.6h-10.2zM282.8 129.6l5.1 -8.6h-10.2zM285.3 128.7l5.1 -8.6h-10.2zM287.7 127.8l5.1 -8.6h-10.2zM290.2 126.9l5.1 -8.6h-10.2zM292.7 126l5.1 -8.6h-10.2zM295.2 125.1l5.1 -8.6h-10.2zM297.6 124.2l5.1 -8.6h-10.2zM300.1 123.2l5.1 -8.6h-10.2zM302.6 122.3l5.1 -8.6h-10.2zM305.1 121.5l5.1 -8.6h-10.2zM307.5 120.6l5.1 -8.6h-10.2zM310 119.7l5.1 -8.6h-10.2zM312.5 118.9l5.1 -8.6h-10.2zM315 118l5.1 -8.6h-10.2zM317.4 117.2l5.1 -8.6h-10.2zM319.9 116.4l5.1 -8.6h-10.2zM322.4 115.6l5.1 -8.6h-10.2zM324.9 114.7l5.1 -8.6h-10.2zM327.3 114l5.1 -8.6h-10.2zM329.8 113.2l5.1 -8.6h-10.2zM332.3 112.4l5.1 -8.6h-10.2zM334.8 111.6l5.1 -8.6h-10.2zM337.2 110.9l5.1 -8.6h-10.2zM339.7 110.2l5.1 -8.6h-10.2zM342.2 109.4l5.1 -8.6h-10.2zM344.7 108.7l5.1 -8.6h-10.2zM347.1 107.9l5.1 -8.6h-10.2zM349.6 107.2l5.1 -8.6h-10.2zM352.1 106.5l5.1 -8.6h-10.2zM354.5 105.8l5.1 -8.6h-10.2zM357 105.2l5.1 -8.6h-10.2zM359.5 104.6l5.1 -8.6h-10.2zM362 104l5.1 -8.6h-10.2zM364.4 103.5l5.1 -8.6h-10.2zM366.9 102.9l5.1 -8.6h-10.2zM369.4 102.4l5.1 -8.6h-10.2zM371.9 101.9l5.1 -8.6h-10.2zM374.3 101.4l5.1 -8.6h-10.2zM376.8 100.9l5.1 -8.6h-10.2zM379.3 100.4l5.1 -8.6h-10.2zM381.8 99.9l5.1 -8.6h-10.2zM384.2 99.5l5.1 -8.6h-10.2zM386.7 99l5.1 -8.6h-10.2zM389.2 98.5l5.1 -8.6h-10.2zM391.7 98.1l5.1 -8.6h-10.2zM394.1 97.6l5.1 -8.6h-10.2zM396.6 97.1l5.1 -8.6h-10.2zM399.1 96.7l5.1 -8.6h-10.2zM401.6 96.2l5.1 -8.6h-10.2zM404 95.8l5.1 -8.6h-10.2zM406.5 95.4l5.1 -8.6h-10.2zM409 95l5.1 -8.6h-10.2zM411.4 94.7l5.1 -8.6h-10.2zM413.9 94.3l5.1 -8.6h-10.2zM416.4 94l5.1 -8.6h-10.2zM418.9 93.7l5.1 -8.6h-10.2zM421.3 93.4l5.1 -8.6h-10.2zM423.8 93.1l5.1 -8.6h-10.2zM426.3 92.8l5.1 -8.6h-10.2zM428.8 92.5l5.1 -8.6h-10.2zM431.2 92.2l5.1 -8.6h-10.2zM433.7 91.9l5.1 -8.6h-10.2zM436.2 91.6l5.1 -8.6h-10.2zM438.7 91.4l5.1 -8.6h-10.2zM441.1 91.2l5.1 -8.6h-10.2zM443.6 91l5.1 -8.6h-10.2zM446.1 90.8l5.1 -8.6h-10.2zM448.6 90.6l5.1 -8.6h-10.2zM451 90.4l5.1 -8.6h-10.2zM453.5 90.2l5.1 -8.6h-10.2zM456 90.1l5.1 -8.6h-10.2zM458.5 89.9l5.1 -8.6h-10.2zM460.9 89.8l5.1 -8.6h-10.2zM463.4 89.7l5.1 -8.6h-10.2zM465.9 89.5l5.1 -8.6h-10.2zM468.4 89.4l5.1 -8.6h-10.2zM470.8 89.3l5.1 -8.6h-10.2zM473.3 89.2l5.1 -8.6h-10.2zM475.8 89.1l5.1 -8.6h-10.2zM478.2 89l5.1 -8.6h-10.2zM480.7 88.9l5.1 -8.6h-10.2zM483.2 88.8l5.1 -8.6h-10.2zM485.7 88.7l5.1 -8.6h-10.2zM488.1 88.6l5.1 -8.6h-10.2zM490.6 88.5l5.1 -8.6h-10.2zM493.1 88.4l5.1 -8.6h-10.2zM495.6 88.4l5.1 -8.6h-10.2zM498 88.3l5.1 -8.6h-10.2zM500.5 88.2l5.1 -8.6h-10.2zM503 88.1l5.1 -8.6h-10.2zM505.5 88l5.1 -8.6h-10.2zM507.9 87.9l5.1 -8.6h-10.2zM510.4 87.8l5.1 -8.6h-10.2zM512.9 87.8l5.1 -8.6h-10.2zM515.4 87.7l5.1 -8.6h-10.2zM517.8 87.6l5.1 -8.6h-10.2zM520.3 87.5l5.1 -8.6h-10.2zM522.8 87.4l5.1 -8.6h-10.2zM525.3 87.3l5.1 -8.6h-10.2zM527.7 87.2l5.1 -8.6h-10.2zM530.2 87.1l5.1 -8.6h-10.2z" fill="#008080"/>
<path d="M97.2 311 L99.7 300.4 L102.2 294.1 L104.7 289.2 L107.1 284 L109.6 280.2 L112.1 276.9 L114.6 272.7 L117 268.7 L119.5 264.9 L122 260.7 L124.5 256.3 L126.9 252 L129.4 248 L131.9 244.7 L134.4 241.8 L136.8 239 L139.3 236.4 L141.8 233.9 L144.3 231.3 L146.7 228.6 L149.2 225.9 L151.7 223.1 L154.2 220.5 L156.6 218.2 L159.1 216 L161.6 214 L164 212.1 L166.5 210.1 L169 208.1 L171.5 206.2 L173.9 204.3 L176.4 202.4 L178.9 200.5 L181.4 198.5 L183.8 196.7 L186.3 194.9 L188.8 193.1 L191.3 191.4 L193.7 189.7 L196.2 188.1 L198.7 186.5 L201.2 184.9 L203.6 183.4 L206.1 181.8 L208.6 180.2 L211.1 178.7 L213.5 177.1 L216 175.6 L218.5 174.2 L221 172.8 L223.4 171.5 L225.9 170.2 L228.4 168.9 L230.8 167.7 L233.3 166.5 L235.8 165.3 L238.3 164.1 L240.7 162.8 L243.2 161.6 L245.7 160.3 L248.2 159 L250.6 157.7 L253.1 156.4 L255.6 155.1 L258.1 153.9 L260.5 152.7 L263 151.5 L265.5 150.3 L268 149.2 L270.4 148 L272.9 146.9 L275.4 145.8 L277.9 144.7 L280.3 143.6 L282.8 142.5 L285.3 141.4 L287.7 140.3 L290.2 139.3 L292.7 138.2 L295.2 137.1 L297.6 136.1 L300.1 135.1 L302.6 134.1 L305.1 133.2 L307.5 132.2 L310 131.3 L312.5 130.5 L315 129.6 L317.4 128.8 L319.9 127.9 L322.4 127.1 L324.9 126.3 L327.3 125.6 L329.8 124.8 L332.3 124.1 L334.8 123.4 L337.2 122.7 L339.7 122 L342.2 121.3 L344.7 120.7 L347.1 120.1 L349.6 119.5 L352.1 118.9 L354.5 118.4 L357 117.9 L359.5 117.4 L362 117 L364.4 116.6 L366.9 116.2 L369.4 115.8 L371.9 115.4 L374.3 115.1 L376.8 114.8 L379.3 114.5 L381.8 114.2 L384.2 114 L386.7 113.7 L389.2 113.5 L391.7 113.3 L394.1 113.1 L396.6 112.9 L399.1 112.8 L401.6 112.6 L404 112.4 L406.5 112.3 L409 112.1 L411.4 111.9 L413.9 111.8 L416.4 111.7 L418.9 111.5 L421.3 111.4 L423.8 111.2 L426.3 111.1 L428.8 111 L431.2 110.8 L433.7 110.7 L436.2 110.6 L438.7 110.4 L441.1 110.3 L443.6 110.1 L446.1 110 L448.6 109.9 L451 109.7 L453.5 109.6 L456 109.5 L458.5 109.3 L460.9 109.2 L463.4 109.1 L465.9 109 L468.4 108.8 L470.8 108.7 L473.3 108.6 L475.8 108.5 L478.2 108.4 L480.7 108.2 L483.2 108.1 L485.7 108 L488.1 107.9 L490.6 107.8 L493.1 107.7 L495.6 107.7 L498 107.6 L500.5 107.5 L503 107.4 L505.5 107.3 L507.9 107.2 L510.4 107.2 L512.9 107.1 L515.4 107 L517.8 106.9 L520.3 106.8 L522.8 106.8 L525.3 106.7 L527.7 106.6 L530.2 106.5" fill="none" stroke="#f0f" stroke-width="0.6"/>
<path d="M97.2 305.9l5.1 5.1l-5.1 5.1l-5.1 -5.1zM99.7 295.3l5.1 5.1l-5.1 5.1l-5.1 -5.1zM102.2 289l5.1 5.1l-5.1 5.1l-5.1 -5.1zM104.7 284.1l5.1 5.1l-5.1 5.1l-5.1 -5.1zM107.1 278.9l5.1 5.1l-5.1 5.1l-5.1 -5.1zM109.6 275.1l5.1 5.1l-5.1 5.1l-5.1 -5.1zM112.1 271.8l5.1 5.1l-5.1 5.1l-5.1 -5.1zM114.6 267.6l5.1 5.1l-5.1 5.1l-5.1 -5.1zM117 263.6l5.1 5.1l-5.1 5.1l-5.1 -5.1zM119.5 259.8l5.1 5.1l-5.1 5.1l-5.1 -5.1zM122 255.6l5.1 5.1l-5.1 5.1l-5.1 -5.1zM124.5 251.2l5.1 5.1l-5.1 5.1l-5.1 -5.1zM126.9 246.9l5.1 5.1l-5.1 5.1l-5.1 -5.1zM129.4 242.9l5.1 5.1l-5.1 5.1l-5.1 -5.1zM131.9 239.6l5.1 5.1l-5.1 5.1l-5.1 -5.1zM134.4 236.7l5.1 5.1l-5.1 5.1l-5.1 -5.1zM136.8 233.9l5.1 5.1l-5.1 5.1l-5.1 -5.1zM139.3 231.3l5.1 5.1l-5.1 5.1l-5.1 -5.1zM141.8 228.8l5.1 5.1l-5.1 5.1l-5.1 -5.1zM144.3 226.2l5.1 5.1l-5.1 5.1l-5.1 -5.1zM146.7 223.5l5.1 5.1l-5.1 5.1l-5.1 -5.1zM149.2 220.8l5.1 5.1l-5.1 5.1l-5.1 -5.1zM151.7 218l5.1 5.1l-5.1 5.1l-5.1 -5.1zM154.2 215.4l5.1 5.1l-5.1 5.1l-5.1 -5.1zM156.6 213.1l5.1 5.1l-5.1 5.1l-5.1 -5.1zM159.1 210.9l5.1 5.1l-5.1 5.1l-5.1 -5.1zM161.6 208.9l5.1 5.1l-5.1 5.1l-5.1 -5.1zM164 207l5.1 5.1l-5.1 5.1l-5.1 -5.1zM166.5 205l5.1 5.1l-5.1 5.1l-5.1 -5.1zM169 203l5.1 5.1l-5.1 5.1l-5.1 -5.1zM171.5 201.1l5.1 5.1l-5.1 5.1l-5.1 -5.1zM173.9 199.2l5.1 5.1l-5.1 5.1l-5.1 -5.1zM176.4 197.3l5.1 5.1l-5.1 5.1l-5.1 -5.1zM178.9 195.4l5.1 5.1l-5.1 5.1l-5.1 -5.1zM181.4 193.4l5.1 5.1l-5.1 5.1l-5.1 -5.1zM183.8 191.6l5.1 5.1l-5.1 5.1l-5.1 -5.1zM186.3 189.8l5.1 5.1l-5.1 5.1l-5.1 -5.1zM188.8 188l5.1 5.1l-5.1 5.1l-5.1 -5.1zM191.3 186.3l5.1 5.1l-5.1 5.1l-5.1 -5.1zM193.7 184.6l5.1 5.1l-5.1 5.1l-5.1 -5.1zM196.2 183l5.1 5.1l-5.1 5.1l-5.1 -5.1zM198.7 181.4l5.1 5.1l-5.1 5.1l-5.1 -5.1zM201.2 179.8l5.1 5.1l-5.1 5.1l-5.1 -5.1zM203.6 178.3l5.1 5.1l-5.1 5.1l-5.1 -5.1zM206.1 176.7l5.1 5.1l-5.1 5.1l-5.1 -5.1zM208.6 175.1l5.1 5.1l-5.1 5.1l-5.1 -5.1zM211.1 173.6l5.1 5.1l-5.1 5.1l-5.1 -5.1zM213.5 172l5.1 5.1l-5.1 5.1l-5.1 -5.1zM216 170.5l5.1 5.1l-5.1 5.1l-5.1 -5.1zM218.5 169.1l5.1 5.1l-5.1 5.1l-5.1 -5.1zM221 167.7l5.1 5.1l-5.1 5.1l-5.1 -5.1zM223.4 166.4l5.1 5.1l-5.1 5.1l-5.1 -5.1zM225.9 165.1l5.1 5.1l-5.1 5.1l-5.1 -5.1zM228.4 163.8l5.1 5.1l-5.1 5.1l-5.1 -5.1zM230.8 162.6l5.1 5.1l-5.1 5.1l-5.1 -5.1zM233.3 161.4l5.1 5.1l-5.1 5.1l-5.1 -5.1zM235.8 160.2l5.1 5.1l-5.1 5.1l-5.1 -5.1zM238.3 159l5.1 5.1l-5.1 5.1l-5.1 -5.1zM240.7 157.7l5.1 5.1l-5.1 5.1l-5.1 -5.1zM243.2 156.5l5.1 5.1l-5.1 5.1l-5.1 -5.1zM245.7 155.2l5.1 5.1l-5.1 5.1l-5.1 -5.1zM248.2 153.9l5.1 5.1l-5.1 5.1l-5.1 -5.1zM250.6 152.6l5.1 5.1l-5.1 5.1l-5.1 -5.1zM253.1 151.3l5.1 5.1l-5.1 5.1l-5.1 -5.1zM255.6 150l5.1 5.1l-5.1 5.1l-5.1 -5.1zM258.1 148.8l5.1 5.1l-5.1 5.1l-5.1 -5.1zM260.5 147.6l5.1 5.1l-5.1 5.1l-5.1 -5.1zM263 146.4l5.1 5.1l-5.1 5.1l-5.1 -5.1zM265.5 145.2l5.1 5.1l-5.1 5.1l-5.1 -5.1zM268 144.1l5.1 5.1l-5.1 5.1l-5.1 -5.1zM270.4 142.9l5.1 5.1l-5.1 5.1l-5.1 -5.1zM272.9 141.8l5.1 5.1l-5.1 5.1l-5.1 -5.1zM275.4 140.7l5.1 5.1l-5.1 5.1l-5.1 -5.1zM277.9 139.6l5.1 5.1l-5.1 5.1l-5.1 -5.1zM280.3 138.5l5.1 5.1l-5.1 5.1l-5.1 -5.1zM282.8 137.4l5.1 5.1l-5.1 5.1l-5.1 -5.1zM285.3 136.3l5.1 5.1l-5.1 5.1l-5.1 -5.1zM287.7 135.2l5.1 5.1l-5.1 5.1l-5.1 -5.1zM290.2 134.2l5.1 5.1l-5.1 5.1l-5.1 -5.1zM292.7 133.1l5.1 5.1l-5.1 5.1l-5.1 -5.1zM295.2 132l5.1 5.1l-5.1 5.1l-5.1 -5.1zM297.6 131l5.1 5.1l-5.1 5.1l-5.1 -5.1zM300.1 130l5.1 5.1l-5.1 5.1l-5.1 -5.1zM302.6 129l5.1 5.1l-5.1 5.1l-5.1 -5.1zM305.1 128.1l5.1 5.1l-5.1 5.1l-5.1 -5.1zM307.5 127.1l5.1 5.1l-5.1 5.1l-5.1 -5.1zM310 126.2l5.1 5.1l-5.1 5.1l-5.1 -5.1zM312.5 125.4l5.1 5.1l-5.1 5.1l-5.1 -5.1zM315 124.5l5.1 5.1l-5.1 5.1l-5.1 -5.1zM317.4 123.7l5.1 5.1l-5.1 5.1l-5.1 -5.1zM319.9 122.8l5.1 5.1l-5.1 5.1l-5.1 -5.1zM322.4 122l5.1 5.1l-5.1 5.1l-5.1 -5.1zM324.9 121.2l5.1 5.1l-5.1 5.1l-5.1 -5.1zM327.3 120.5l5.1 5.1l-5.1 5.1l-5.1 -5.1zM329.8 119.7l5.1 5.1l-5.1 5.1l-5.1 -5.1zM332.3 119l5.1 5.1l-5.1 5.1l-5.1 -5.1zM334.8 118.3l5.1 5.1l-5.1 5.1l-5.1 -5.1zM337.2 117.6l5.1 5.1l-5.1 5.1l-5.1 -5.1zM339.7 116.9l5.1 5.1l-5.1 5.1l-5.1 -5.1zM342.2 116.2l5.1 5.1l-5.1 5.1l-5.1 -5.1zM344.7 115.6l5.1 5.1l-5.1 5.1l-5.1 -5.1zM347.1 115l5.1 5.1l-5.1 5.1l-5.1 -5.1zM349.6 114.4l5.1 5.1l-5.1 5.1l-5.1 -5.1zM352.1 113.8l5.1 5.1l-5.1 5.1l-5.1 -5.1zM354.5 113.3l5.1 5.1l-5.1 5.1l-5.1 -5.1zM357 112.8l5.1 5.1l-5.1 5.1l-5.1 -5.1zM359.5 112.3l5.1 5.1l-5.1 5.1l-5.1 -5.1zM362 111.9l5.1 5.1l-5.1 5.1l-5.1 -5.1zM364.4 111.5l5.1 5.1l-5.1 5.1l-5.1 -5.1zM366.9 111.1l5.1 5.1l-5.1 5.1l-5.1 -5.1zM369.4 110.7l5.1 5.1l-5.1 5.1l-5.1 -5.1zM371.9 110.3l5.1 5.1l-5.1 5.1l-5.1 -5.1zM374.3 110l5.1 5.1l-5.1 5.1l-5.1 -5.1zM376.8 109.7l5.1 5.1l-5.1 5.1l-5.1 -5.1zM379.3 109.4l5.1 5.1l-5.1 5.1l-5.1 -5.1zM381.8 109.1l5.1 5.1l-5.1 5.1l-5.1 -5.1zM384.2 108.9l5.1 5.1l-5.1 5.1l-5.1 -5.1zM386.7 108.6l5.1 5.1l-5.1 5.1l-5.1 -5.1zM389.2 108.4l5.1 5.1l-5.1 5.1l-5.1 -5.1zM391.7 108.2l5.1 5.1l-5.1 5.1l-5.1 -5.1zM394.1 108l5.1 5.1l-5.1 5.1l-5.1 -5.1zM396.6 107.8l5.1 5.1l-5.1 5.1l-5.1 -5.1zM399.1 107.7l5.1 5.1l-5.1 5.1l-5.1 -5.1zM401.6 107.5l5.1 5.1l-5.1 5.1l-5.1 -5.1zM404 107.3l5.1 5.1l-5.1 5.1l-5.1 -5.1zM406.5 107.2l5.1 5.1l-5.1 5.1l-5.1 -5.1zM409 107l5.1 5.1l-5.1 5.1l-5.1 -5.1zM411.4 106.8l5.1 5.1l-5.1 5.1l-5.1 -5.1zM413.9 106.7l5.1 5.1l-5.1 5.1l-5.1 -5.1zM416.4 106.6l5.1 5.1l-5.1 5.1l-5.1 -5.1zM418.9 106.4l5.1 5.1l-5.1 5.1l-5.1 -5.1zM421.3 106.3l5.1 5.1l-5.1 5.1l-5.1 -5.1zM423.8 106.1l5.1 5.1l-5.1 5.1l-5.1 -5.1zM426.3 106l5.1 5.1l-5.1 5.1l-5.1 -5.1zM428.8 105.9l5.1 5.1l-5.1 5.1l-5.1 -5.1zM431.2 105.7l5.1 5.1l-5.1 5.1l-5.1 -5.1zM433.7 105.6l5.1 5.1l-5.1 5.1l-5.1 -5.1zM436.2 105.5l5.1 5.1l-5.1 5.1l-5.1 -5.1zM438.7 105.3l5.1 5.1l-5.1 5.1l-5.1 -5.1zM441.1 105.2l5.1 5.1l-5.1 5.1l-5.1 -5.1zM443.6 105l5.1 5.1l-5.1 5.1l-5.1 -5.1zM446.1 104.9l5.1 5.1l-5.1 5.1l-5.1 -5.1zM448.6 104.8l5.1 5.1l-5.1 5.1l-5.1 -5.1zM451 104.6l5.1 5.1l-5.1 5.1l-5.1 -5.1zM453.5 104.5l5.1 5.1l-5.1 5.1l-5.1 -5.1zM456 104.4l5.1 5.1l-5.1 5.1l-5.1 -5.1zM458.5 104.2l5.1 5.1l-5.1 5.1l-5.1 -5.1zM460.9 104.1l5.1 5.1l-5.1 5.1l-5.1 -5.1zM463.4 104l5.1 5.1l-5.1 5.1l-5.1 -5.1zM465.9 103.9l5.1 5.1l-5.1 5.1l-5.1 -5.1zM468.4 103.7l5.1 5.1l-5.1 5.1l-5.1 -5.1zM470.8 103.6l5.1 5.1l-5.1 5.1l-5.1 -5.1zM473.3 103.5l5.1 5.1l-5.1 5.1l-5.1 -5.1zM475.8 103.4l5.1 5.1l-5.1 5.1l-5.1 -5.1zM478.2 103.3l5.1 5.1l-5.1 5.1l-5.1 -5.1zM480.7 103.1l5.1 5.1l-5.1 5.1l-5.1 -5.1zM483.2 103l5.1 5.1l-5.1 5.1l-5.1 -5.1zM485.7 102.9l5.1 5.1l-5.1 5.1l-5.1 -5.1zM488.1 102.8l5.1 5.1l-5.1 5.1l-5.1 -5.1zM490.6 102.7l5.1 5.1l-5.1 5.1l-5.1 -5.1zM493.1 102.6l5.1 5.1l-5.1 5.1l-5.1 -5.1zM495.6 102.6l5.1 5.1l-5.1 5.1l-5.1 -5.1zM498 102.5l5.1 5.1l-5.1 5.1l-5.1 -5.1zM500.5 102.4l5.1 5.1l-5.1 5.1l-5.1 -5.1zM503 102.3l5.1 5.1l-5.1 5.1l-5.1 -5.1zM505.5 102.2l5.1 5.1l-5.1 5.1l-5.1 -5.1zM507.9 102.1l5.1 5.1l-5.1 5.1l-5.1 -5.1zM510.4 102.1l5.1 5.1l-5.1 5.1l-5.1 -5.1zM512.9 102l5.1 5.1l-5.1 5.1l-5.1 -5.1zM515.4 101.9l5.1 5.1l-5.1 5.1l-5.1 -5.1zM517.8 101.8l5.1 5.1l-5.1 5.1l-5.1 -5.1zM520.3 101.7l5.1 5.1l-5.1 5.1l-5.1 -5.1zM522.8 101.7l5.1 5.1l-5.1 5.1l-5.1 -5.1zM525.3 101.6l5.1 5.1l-5.1 5.1l-5.1 -5.1zM527.7 101.5l5.1 5.1l-5.1 5.1l-5.1 -5.1zM530.2 101.4l5.1 5.1l-5.1 5.1l-5.1 -5.1z" fill="#f0f"/>
</g>
<path d="M113.2 61.8H124M137.6 61.8H148.2" stroke="#000" stroke-width="0.8" opacity="0.75"/>
<rect x="126.7" y="57.8" width="8" height="8" fill="#000"/>
<text x="152.2" y="67.3" font-size="15.7">2 nm</text>
<path d="M113.2 80.9H124M137.6 80.9H148.2" stroke="#f00" stroke-width="0.8" opacity="0.75"/>
<circle cx="130.7" cy="80.9" r="4.3" fill="#f00"/>
<text x="152.2" y="86.4" font-size="15.7">4 nm</text>
<path d="M113.2 100.1H124M137.6 100.1H148.2" stroke="#00f" stroke-width="0.8" opacity="0.75"/>
<path d="M130.7 94.9l5.3 8.8h-10.6z" fill="#00f"/>
<text x="152.2" y="105.6" font-size="15.7">6 nm</text>
<path d="M113.2 119.2H124M137.6 119.2H148.2" stroke="#008080" stroke-width="0.8" opacity="0.75"/>
<path d="M130.7 124.5l5.3 -8.8h-10.6z" fill="#008080"/>
<text x="152.2" y="124.8" font-size="15.7">8 nm</text>
<path d="M113.2 138.4H124M137.6 138.4H148.2" stroke="#f0f" stroke-width="0.8" opacity="0.75"/>
<path d="M130.7 133.3l5.1 5.1l-5.1 5.1l-5.1 -5.1z" fill="#f0f"/>
<text x="152.2" y="143.9" font-size="15.7">10 nm</text>
<text x="119.5" y="48" font-size="18.6" font-weight="bold">L<tspan font-size="12" dx="-1.2" dy="3.7">T</tspan></text>
<text transform="translate(27.8 325.6) rotate(-90)" font-size="29.5" font-weight="bold">Drain Current [A/µm]</text>
<text x="207.6" y="397.8" font-size="29.8" font-weight="bold">Gate Voltage [V]</text>
<g id="inset">
<rect x="349.8" y="162.7" width="142.09999999999997" height="138.2" fill="#fff"/>
<path d="M349.8 162.2V300.9H491.9M349.8 162.7H491.9M364.0 300.9v-2.2M364.0 162.7v2.2M378.2 300.9v-1.6M378.2 162.7v1.6M392.4 300.9v-2.2M392.4 162.7v2.2M406.6 300.9v-1.6M406.6 162.7v1.6M420.8 300.9v-2.2M420.8 162.7v2.2M435.0 300.9v-1.6M435.0 162.7v1.6M449.2 300.9v-2.2M449.2 162.7v2.2M463.4 300.9v-1.6M463.4 162.7v1.6M477.6 300.9v-2.2M477.6 162.7v2.2M349.8 285.2h1.7M349.8 269.7h2.8M349.8 254.3h1.7M349.8 238.9h2.8M349.8 223.5h1.7M349.8 208.0h2.8M349.8 192.6h1.7M349.8 177.2h2.8" fill="none" stroke="#151515" stroke-width="1.1"/>
<path d="M491.9 162.2V301.4M491.9 299.4h-1.7M491.9 285.7h-2.9M491.9 272.0h-1.7M491.9 258.3h-2.9M491.9 244.7h-1.7M491.9 231.0h-2.9M491.9 217.3h-1.7M491.9 203.6h-2.9M491.9 190.0h-1.7M491.9 176.3h-2.9" fill="none" stroke="#1c1cff" stroke-width="1.1"/>
<text transform="translate(347.3 304.4) scale(0.74 1)" text-anchor="end" font-size="10.8" fill="#111" stroke="#111" stroke-width="0.32">0.2</text>
<text transform="translate(347.3 273.5) scale(0.74 1)" text-anchor="end" font-size="10.8" fill="#111" stroke="#111" stroke-width="0.32">0.4</text>
<text transform="translate(347.3 242.7) scale(0.74 1)" text-anchor="end" font-size="10.8" fill="#111" stroke="#111" stroke-width="0.32">0.6</text>
<text transform="translate(347.3 211.8) scale(0.74 1)" text-anchor="end" font-size="10.8" fill="#111" stroke="#111" stroke-width="0.32">0.8</text>
<text transform="translate(347.3 181.0) scale(0.74 1)" text-anchor="end" font-size="10.8" fill="#111" stroke="#111" stroke-width="0.32">1.0</text>
<text transform="translate(364.0 313.3) scale(0.74 1)" text-anchor="middle" font-size="10.8" fill="#111" stroke="#111" stroke-width="0.32">2</text>
<text transform="translate(392.4 313.3) scale(0.74 1)" text-anchor="middle" font-size="10.8" fill="#111" stroke="#111" stroke-width="0.32">4</text>
<text transform="translate(420.8 313.3) scale(0.74 1)" text-anchor="middle" font-size="10.8" fill="#111" stroke="#111" stroke-width="0.32">6</text>
<text transform="translate(449.2 313.3) scale(0.74 1)" text-anchor="middle" font-size="10.8" fill="#111" stroke="#111" stroke-width="0.32">8</text>
<text transform="translate(477.6 313.3) scale(0.74 1)" text-anchor="middle" font-size="10.8" fill="#111" stroke="#111" stroke-width="0.32">10</text>
<text transform="translate(494.6 289.5) scale(0.74 1)" text-anchor="start" font-size="10.8" fill="#1c1cff" stroke="#1c1cff" stroke-width="0.32">70</text>
<text transform="translate(494.6 262.1) scale(0.74 1)" text-anchor="start" font-size="10.8" fill="#1c1cff" stroke="#1c1cff" stroke-width="0.32">80</text>
<text transform="translate(494.6 234.8) scale(0.74 1)" text-anchor="start" font-size="10.8" fill="#1c1cff" stroke="#1c1cff" stroke-width="0.32">90</text>
<text transform="translate(494.6 207.4) scale(0.74 1)" text-anchor="start" font-size="10.8" fill="#1c1cff" stroke="#1c1cff" stroke-width="0.32">100</text>
<text transform="translate(494.6 180.1) scale(0.74 1)" text-anchor="start" font-size="10.8" fill="#1c1cff" stroke="#1c1cff" stroke-width="0.32">110</text>
<path d="M364.0 168.2 L392.4 231.9 L420.8 267.1 L449.2 283.9 L477.6 286.3" fill="none" stroke="#333" stroke-width="0.8"/>
<path d="M362.9 166.7h2.2v3h-2.2zM391.3 230.4h2.2v3h-2.2zM419.7 265.6h2.2v3h-2.2zM448.1 282.4h2.2v3h-2.2zM476.5 284.8h2.2v3h-2.2z" fill="#000"/>
<path d="M364.0 283.0 L392.4 274.5 L420.8 246.6 L449.2 212.7 L477.6 173.8" fill="none" stroke="#2a2aff" stroke-width="0.9"/>
<path d="M362.9 281.5h2.2v3h-2.2zM391.3 273.0h2.2v3h-2.2zM419.7 245.1h2.2v3h-2.2zM448.1 211.2h2.2v3h-2.2zM476.5 172.3h2.2v3h-2.2z" fill="#00f"/>
<path d="M395 188H406.8" stroke="#999" stroke-width="0.8"/><rect x="399.9" y="186.4" width="2.2" height="3.2" fill="#000"/>
<path d="M395 198.6H406.8" stroke="#44f" stroke-width="0.8"/><rect x="399.9" y="197" width="2.2" height="3.2" fill="#00f"/>
<text transform="translate(408.6 190.3) scale(0.8 1)" font-size="6.8" font-style="italic" fill="#111" stroke="#111" stroke-width="0.15">V<tspan font-size="3.6" dy="1.8">ON</tspan></text>
<text transform="translate(408.6 201.1) scale(0.8 1)" font-size="6.8" font-style="italic" fill="#111" stroke="#111" stroke-width="0.15">SS</text>
<text transform="translate(404.9 328.5) scale(0.75 1)" font-size="11.8" font-weight="bold" fill="#111" stroke="#111" stroke-width="0.7">L</text>
<text transform="translate(410.2 331.3) scale(0.75 1)" font-size="10.2" font-weight="bold" fill="#111" stroke="#111" stroke-width="0.5">T</text>
<text transform="translate(418.7 328.4) scale(0.84 1)" font-size="11.5" fill="#111" stroke="#111" stroke-width="0.45">[nm]</text>
<text transform="translate(330.7 262.9) rotate(-90) scale(1.2 1)" font-size="11.4" font-style="italic" font-weight="bold" fill="#111" letter-spacing="0.3">V<tspan font-size="9" dy="0.1">ON</tspan><tspan font-style="normal" font-size="10" dy="-0.3"> [V]</tspan></text>
<text transform="translate(511.4 203.6) rotate(90)" font-size="10.4" font-weight="bold" fill="#1c1cff" stroke="#1c1cff" stroke-width="0.25" letter-spacing="0.85"><tspan font-style="italic">SS</tspan> [mV/dec]</text>
</g>
</svg>
</body></html>
